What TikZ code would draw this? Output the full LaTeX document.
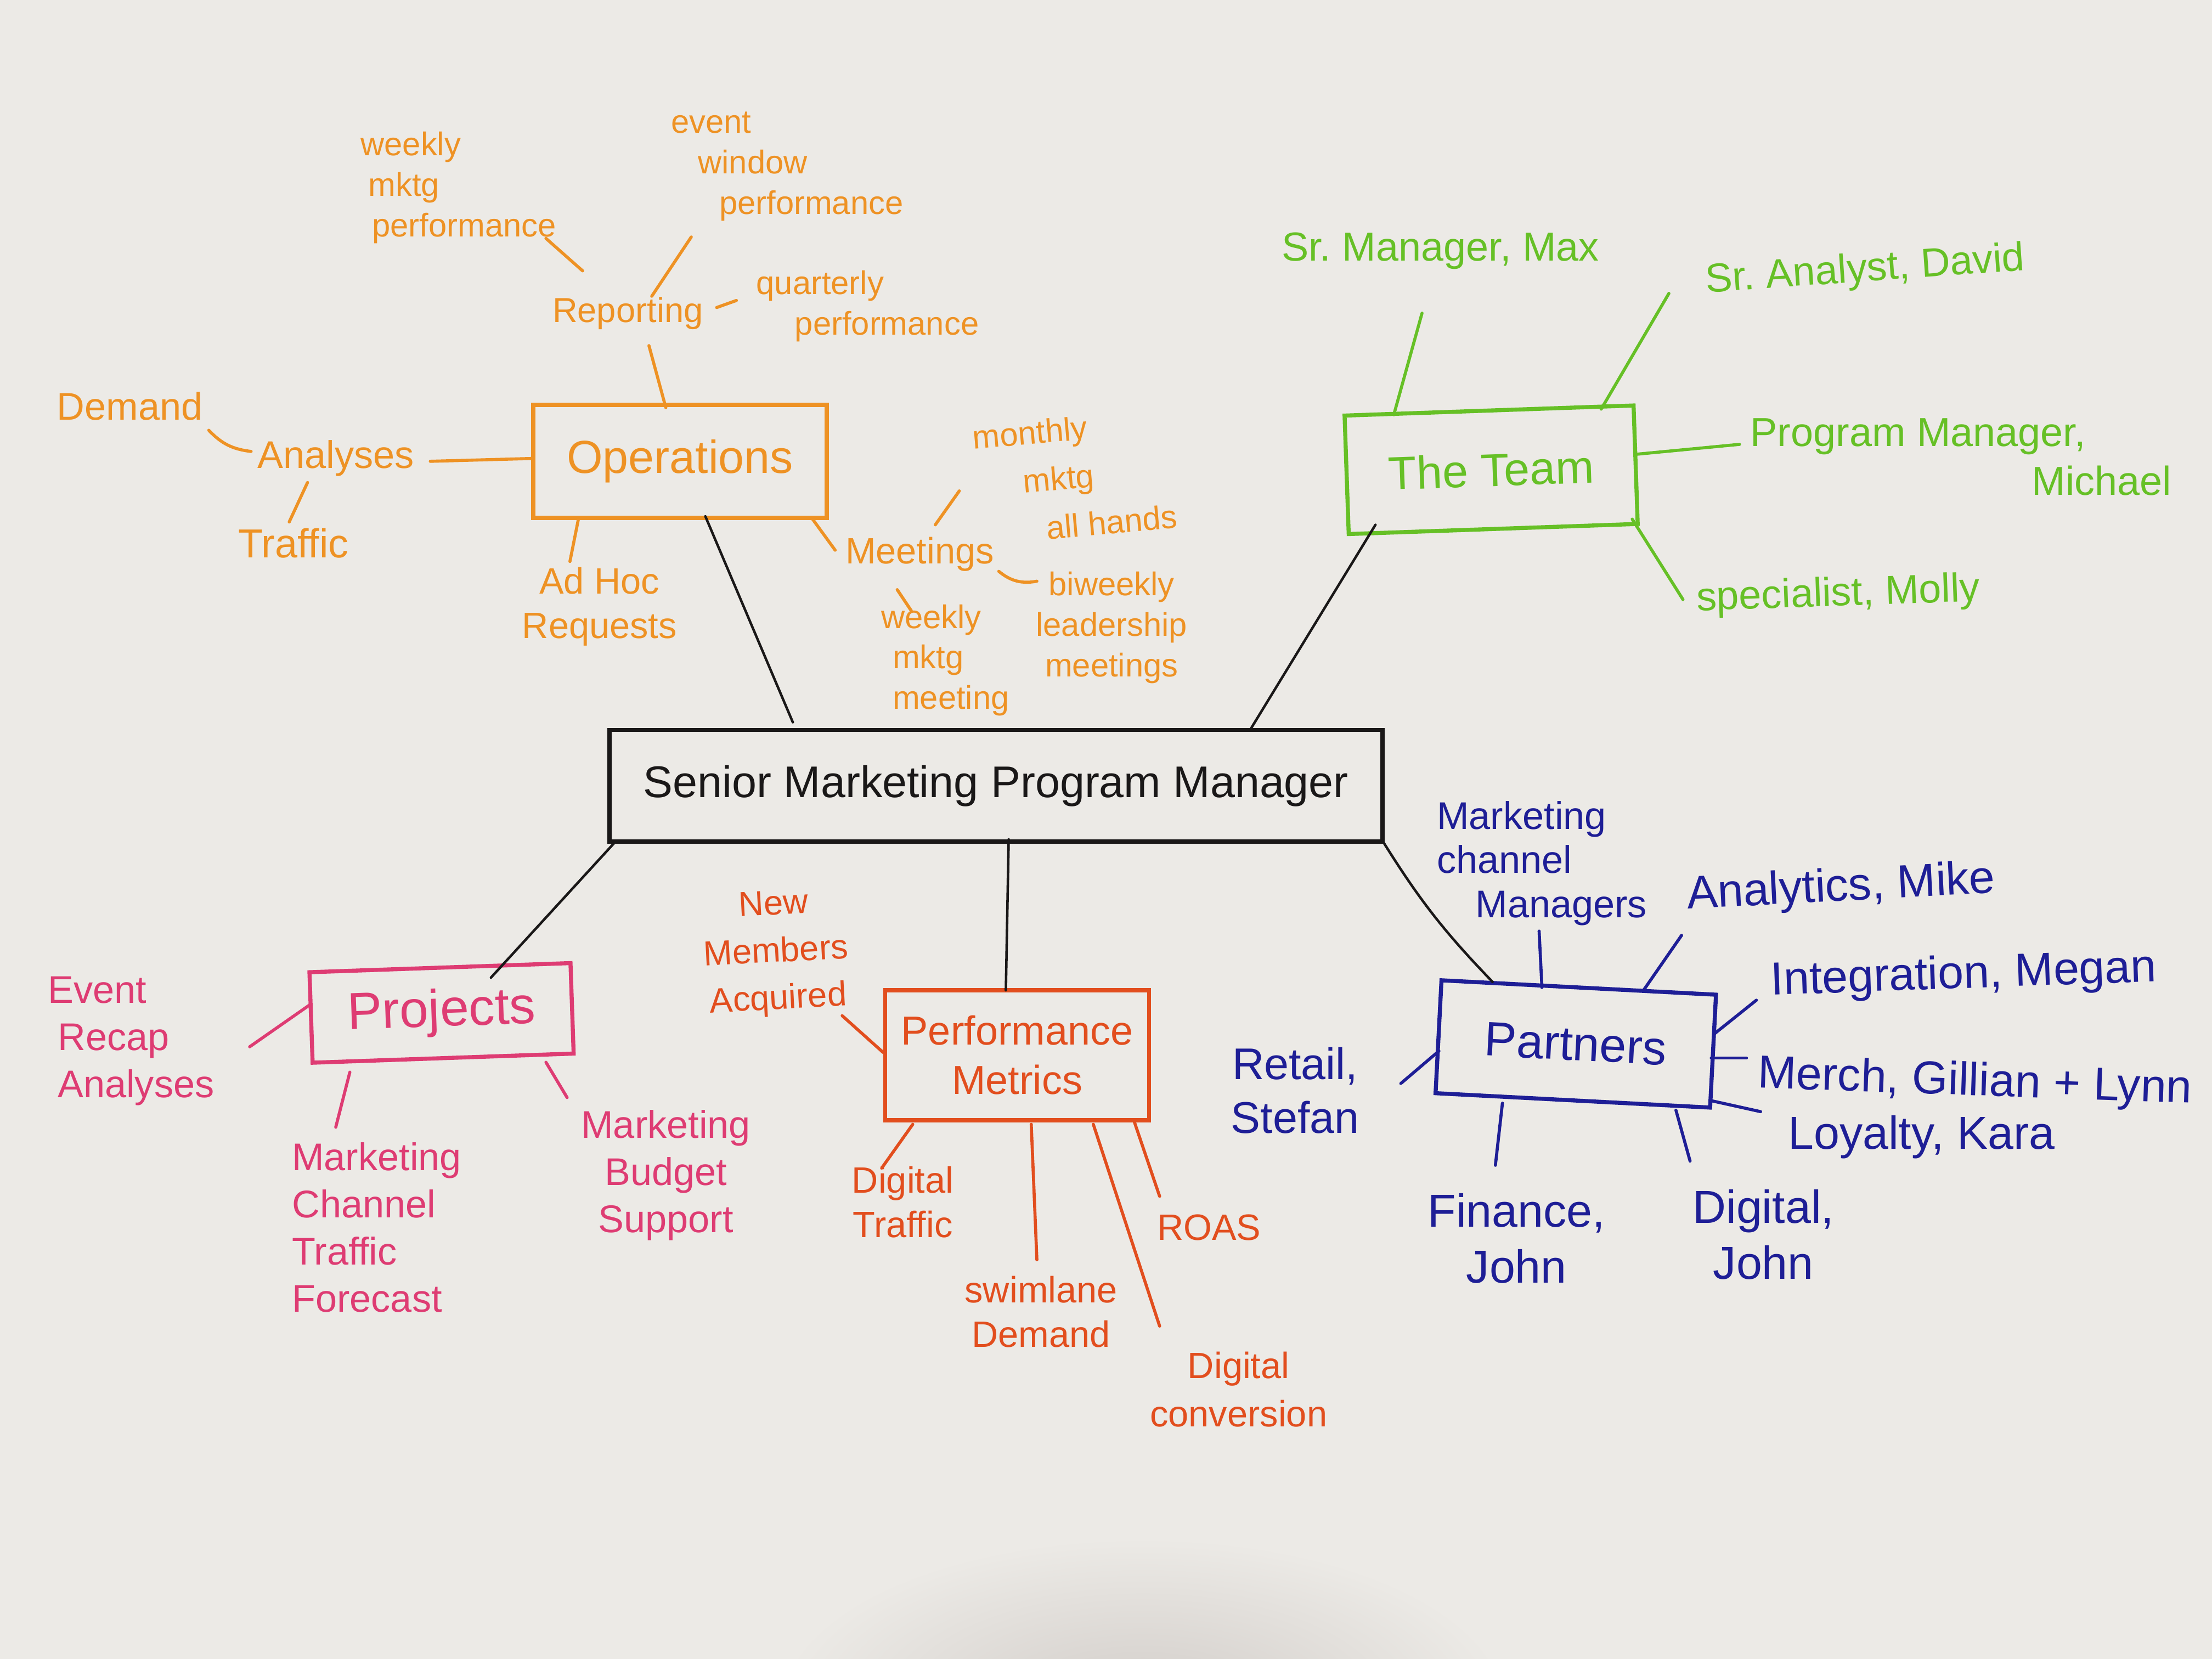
\documentclass[tikz,border=0pt]{standalone}
\usepackage{fontspec}
\setmainfont{Liberation Sans}
\usetikzlibrary{calc}
\definecolor{cBg}{RGB}{236,234,230}
\definecolor{cSh}{RGB}{210,205,201}
\definecolor{cOr}{RGB}{238,146,36}
\definecolor{cGr}{RGB}{102,192,38}
\definecolor{cPk}{RGB}{222,60,115}
\definecolor{cRd}{RGB}{226,78,30}
\definecolor{cBl}{RGB}{30,30,150}
\definecolor{cBk}{RGB}{26,24,24}
\tikzset{
 lbl/.style={inner sep=0pt, align=center},
 orT/.style={lbl, text=cOr, font=\fontsize{17}{21}\selectfont},
 grT/.style={lbl, text=cGr, font=\fontsize{21}{25.5}\selectfont},
 pkT/.style={lbl, text=cPk, font=\fontsize{20}{24.5}\selectfont},
 rdT/.style={lbl, text=cRd, font=\fontsize{19}{23}\selectfont},
 blT/.style={lbl, text=cBl, font=\fontsize{24}{29}\selectfont},
 mbox/.style={draw, line width=2.1pt, inner sep=0pt, align=center},
 orL/.style={draw=cOr, line width=1.6pt, line cap=round},
 grL/.style={draw=cGr, line width=1.6pt, line cap=round},
 pkL/.style={draw=cPk, line width=1.6pt, line cap=round},
 rdL/.style={draw=cRd, line width=1.6pt, line cap=round},
 blL/.style={draw=cBl, line width=1.6pt, line cap=round},
 bkL/.style={draw=cBk, line width=1.3pt, line cap=round},
}
\begin{document}
\begin{tikzpicture}[x=0.02571cm,y=-0.02571cm]
\useasboundingbox (0,0) rectangle (1568,1176);
\fill[cBg] (0,0) rectangle (1568,1176);
\begin{scope}
\clip (0,0) rectangle (1568,1176);
\shade[inner color=cSh, outer color=cBg] (810,1210) ellipse [x radius=260, y radius=120];
\end{scope}

% ---- main ----
\node[mbox, draw=cBk, text=cBk, minimum width=14.09cm, minimum height=2.03cm,
  font=\fontsize{23}{28}\selectfont] (main) at (706,557) {Senior Marketing Program Manager};

% ---- operations (orange) ----
\node[mbox, draw=cOr, text=cOr, minimum width=5.35cm, minimum height=2.06cm,
  font=\fontsize{24}{29}\selectfont] (ops) at (482,327) {Operations};
\node[orT, font=\fontsize{18}{22}\selectfont] (rep) at (445,222) {Reporting};
\node[orT, align=left] (wkperf) at (325,133) {weekly\\\hspace*{4pt}mktg\\\hspace*{6pt}performance};
\node[orT, align=left] (evwin) at (558,118) {event\\\hspace*{14pt}window\\\hspace*{25pt}performance};
\node[orT, align=left] (quart) at (615,217) {quarterly\\\hspace*{20pt}performance};
\node[orT, font=\fontsize{20}{24}\selectfont] (anal) at (238,325) {Analyses};
\node[orT, font=\fontsize{20}{24}\selectfont] (dem) at (92,288) {Demand};
\node[orT, font=\fontsize{21}{25}\selectfont] (traf) at (208,385) {Traffic};
\node[orT, font=\fontsize{19}{23}\selectfont] (adhoc) at (425,430) {Ad Hoc\\Requests};
\node[orT, font=\fontsize{19}{23}\selectfont] (meet) at (652,393) {Meetings};
\node[orT, align=left, rotate=5, font=\fontsize{17}{25}\selectfont] (monthly) at (762,338) {monthly\\\hspace*{24pt}mktg\\\hspace*{34pt}all hands};
\node[orT] (biweek) at (788,445) {biweekly\\leadership\\meetings};
\node[orT, align=left] (wkmeet) at (670,468) {weekly\\\hspace*{6pt}mktg\\\hspace*{6pt}meeting};

\draw[orL] ($(rep.center)+(15,23)$) -- ($(ops.center)+(-10,-38)$);
\draw[orL] ($(wkperf.center)+(62,36)$) -- ($(rep.center)+(-32,-30)$);
\draw[orL] ($(evwin.center)+(-68,50)$) -- ($(rep.center)+(17,-12)$);
\draw[orL] ($(rep.center)+(63,-4)$) -- ($(quart.center)+(-93,-4)$);
\draw[orL] ($(anal.center)+(67,2)$) -- ($(ops.center)+(-105,-2)$);
\draw[orL] ($(dem.center)+(56,17)$) to[bend right=20] ($(anal.center)+(-60,-5)$);
\draw[orL] ($(anal.center)+(-20,17)$) -- ($(traf.center)+(-3,-15)$);
\draw[orL] ($(ops.center)+(-72,41)$) -- ($(adhoc.center)+(-21,-32)$);
\draw[orL] ($(ops.center)+(94,41)$) -- ($(meet.center)+(-60,-3)$);
\draw[orL] ($(meet.center)+(11,-21)$) -- ($(monthly.center)+(-82,10)$);
\draw[orL] ($(meet.center)+(56,12)$) to[bend right=25] ($(biweek.center)+(-53,-33)$);
\draw[orL] ($(meet.center)+(-16,25)$) -- ($(wkmeet.center)+(-24,-35)$);

% ---- the team (green) ----
\node[mbox, draw=cGr, text=cGr, minimum width=5.27cm, minimum height=2.16cm, rotate=2,
  font=\fontsize{24}{29}\selectfont] (team) at (1057,333) {The Team};
\node[grT] (max) at (1021,178) {Sr.\ Manager, Max};
\node[grT, rotate=4] (david) at (1322,192) {Sr.\ Analyst, David};
\node[grT, align=left] (michael) at (1390,324) {Program Manager,\\\hspace*{146pt}Michael};
\node[grT, rotate=2] (molly) at (1303,422) {specialist, Molly};

\draw[grL] ($(max.center)+(-13,44)$) -- ($(team.center)+(-69,-39)$);
\draw[grL] ($(david.center)+(-139,16)$) -- ($(team.center)+(78,-43)$);
\draw[grL] ($(team.center)+(103,-11)$) -- ($(michael.center)+(-157,-9)$);
\draw[grL] ($(team.center)+(100,35)$) -- ($(molly.center)+(-110,3)$);

% ---- black connectors ----
\draw[bkL] ($(ops.center)+(18,39)$) -- ($(main.center)+(-144,-45)$);
\draw[bkL] ($(team.center)+(-82,39)$) -- ($(main.center)+(181,-41)$);

% ---- projects (pink) ----
\node[mbox, draw=cPk, text=cPk, minimum width=4.76cm, minimum height=1.65cm, rotate=2,
  font=\fontsize{27}{32}\selectfont] (proj) at (313,718) {Projects};
\node[pkT, align=left] (erecap) at (93,738) {Event\\\hspace*{5pt}Recap\\\hspace*{5pt}Analyses};
\node[pkT, align=left] (mctf) at (267,870) {Marketing\\Channel\\Traffic\\Forecast};
\node[pkT] (mbs) at (472,833) {Marketing\\Budget\\Support};

\draw[bkL] ($(main.center)+(-271,41)$) -- ($(proj.center)+(35,-25)$);
\draw[pkL] ($(proj.center)+(-93,-6)$) -- ($(erecap.center)+(84,4)$);
\draw[pkL] ($(proj.center)+(-65,42)$) -- ($(mctf.center)+(-29,-71)$);
\draw[pkL] ($(proj.center)+(74,35)$) -- ($(mbs.center)+(-70,-55)$);

% ---- performance metrics (red) ----
\node[mbox, draw=cRd, text=cRd, minimum width=4.81cm, minimum height=2.37cm,
  font=\fontsize{21}{25.5}\selectfont] (perf) at (721,748) {Performance\\Metrics};
\node[rdT, rotate=3, font=\fontsize{18}{24.5}\selectfont] (newmem) at (550,676) {New\\Members\\Acquired};
\node[rdT] (dtraf) at (640,852) {Digital\\Traffic};
\node[rdT] (swim) at (738,930) {swimlane\\Demand};
\node[rdT] (roas) at (857,870) {ROAS};
\node[rdT, font=\fontsize{19}{25}\selectfont] (dconv) at (878,985) {Digital\\conversion};

\draw[bkL] ($(main.center)+(9,38)$) -- ($(perf.center)+(-8,-46)$);
\draw[rdL] ($(newmem.center)+(47,44)$) -- ($(perf.center)+(-95,-2)$);
\draw[rdL] ($(perf.center)+(-74,49)$) -- ($(dtraf.center)+(-15,-24)$);
\draw[rdL] ($(perf.center)+(10,49)$) -- ($(swim.center)+(-3,-37)$);
\draw[rdL] ($(perf.center)+(54,49)$) -- ($(dconv.center)+(-56,-45)$);
\draw[rdL] ($(perf.center)+(83,47)$) -- ($(roas.center)+(-35,-22)$);

% ---- partners (blue) ----
\node[mbox, draw=cBl, text=cBl, minimum width=5.01cm, minimum height=2.06cm, rotate=-3,
  font=\fontsize{25}{30}\selectfont] (part) at (1117,740) {Partners};
\node[blT, align=left, font=\fontsize{20}{23}\selectfont] (mcm) at (1093,612) {Marketing\\channel\\\hspace*{20pt}Managers};
\node[blT, rotate=3] (mike) at (1305,630) {Analytics, Mike};
\node[blT, rotate=2] (megan) at (1392,692) {Integration, Megan};
\node[blT, rotate=-2] (merch) at (1400,768) {Merch, Gillian + Lynn};
\node[blT] (kara) at (1362,806) {Loyalty, Kara};
\node[blT, font=\fontsize{23}{28}\selectfont] (stefan) at (918,773) {Retail,\\Stefan};
\node[blT] (fjohn) at (1075,878) {Finance,\\John};
\node[blT] (djohn) at (1250,875) {Digital,\\John};

\draw[bkL] ($(main.center)+(274,39)$) to[bend right=6] ($(part.center)+(-59,-44)$);
\draw[blL] ($(mcm.center)+(-2,48)$) -- ($(part.center)+(-24,-40)$);
\draw[blL] ($(mike.center)+(-113,33)$) -- ($(part.center)+(48,-38)$);
\draw[blL] ($(part.center)+(98,-7)$) -- ($(megan.center)+(-147,17)$);
\draw[blL] ($(part.center)+(96,10)$) -- ($(merch.center)+(-162,-18)$);
\draw[blL] ($(part.center)+(95,40)$) -- ($(kara.center)+(-114,-18)$);
\draw[blL] ($(part.center)+(-97,5)$) -- ($(stefan.center)+(75,-5)$);
\draw[blL] ($(part.center)+(-52,42)$) -- ($(fjohn.center)+(-15,-52)$);
\draw[blL] ($(part.center)+(71,47)$) -- ($(djohn.center)+(-52,-52)$);
\end{tikzpicture}
\end{document}
